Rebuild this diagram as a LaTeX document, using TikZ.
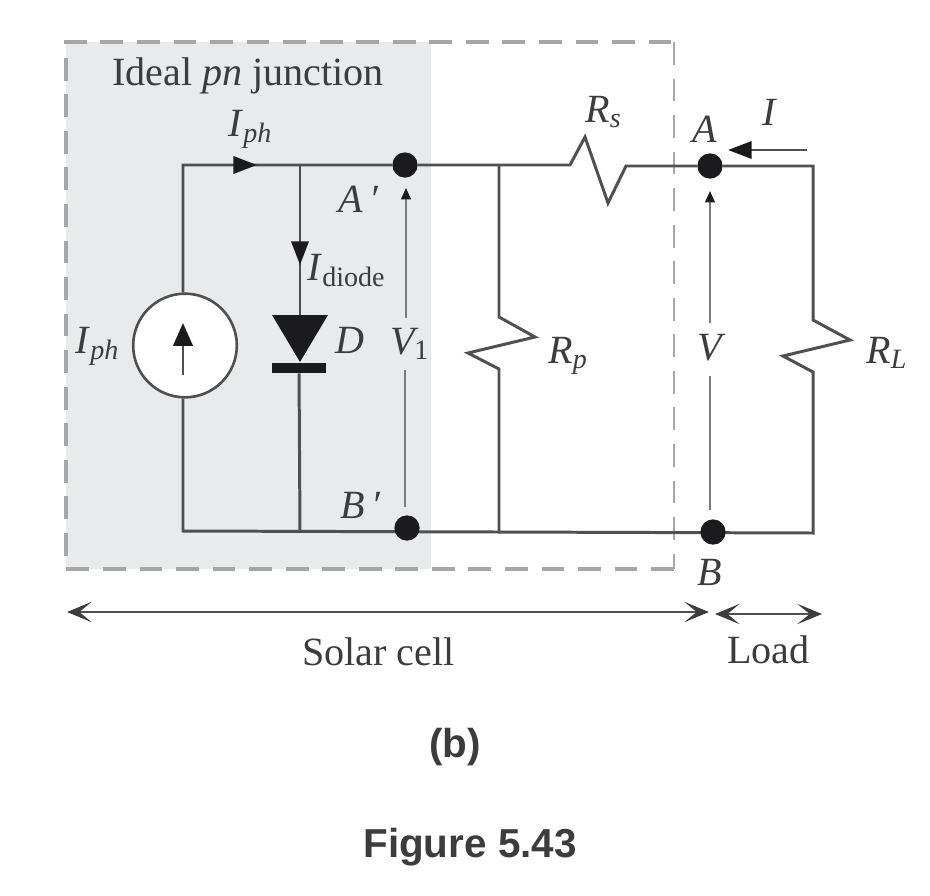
\documentclass[tikz,border=0pt]{standalone}
\usepackage{fontspec}
\setmainfont{Liberation Serif}
\setsansfont{Liberation Sans}
\usetikzlibrary{arrows.meta}
\pgfdeclarelayer{background}
\pgfsetlayers{background,main}
\definecolor{wirec}{HTML}{505050}
\definecolor{txtc}{HTML}{3C3C3E}
\definecolor{dashc}{HTML}{A6A6A6}
\definecolor{cellc}{HTML}{E9EAEC}
\definecolor{dotc}{HTML}{1B1B1D}
\newcommand{\ital}[1]{\textit{#1}}
\newcommand{\isub}[2]{\textit{#1}\textsubscript{\textit{#2}}}
\begin{document}
\begin{tikzpicture}[x=0.02cm,y=-0.02cm,
    wire/.style={draw=wirec,line width=1.7pt,line join=miter},
    dashbox/.style={draw=dashc,line width=1.8pt,dash pattern=on 13pt off 7.8pt},
    dot/.style={circle,fill=dotc,inner sep=0pt,minimum size=14.4pt},
    lab/.style={text=txtc,inner sep=0pt,anchor=base west,font=\fontsize{22.8}{25}\selectfont},
    figcap/.style={text=txtc,inner sep=0pt,anchor=base,font=\sffamily\bfseries\fontsize{23}{26}\selectfont},
    flow/.style={wire,-{Triangle[length=13.5pt,width=9.8pt,color=dotc]}},
    probe/.style={draw=wirec!75,line width=1pt,-{Triangle[length=6.5pt,width=5.6pt,color=dotc]}},
    probeline/.style={draw=wirec!75,line width=1pt},
    span/.style={draw=wirec,line width=1.6pt,{Stealth[length=14pt,width=11.5pt,inset=7pt,color=txtc]}-{Stealth[length=14pt,width=11.5pt,inset=7pt,color=txtc]}}]
    \useasboundingbox (0,0) rectangle (930,896);

    % nodes %
    \node [dot] (Ap) at (405,165) {};
    \node [dot] (Bp) at (407,528) {};
    \node [dot] (A) at (710,166) {};
    \node [dot] (B) at (713,532) {};
    \node [circle,draw=wirec,line width=1.5pt,fill=white,minimum size=59pt,inner sep=0pt] (src) at (185,345.5) {};

    \coordinate (tl) at (183,165);
    \coordinate (bl) at (183,531);
    \coordinate (tr) at (813,166);
    \coordinate (br) at (813,533);
    \coordinate (jd) at (300,165);
    \coordinate (jdb) at (300,531);
    \coordinate (jp) at (499,165);
    \coordinate (jpb) at (499,531);
    \coordinate (hd1) at (257,165);
    \coordinate (hd2) at (300,265);

    % diode %
    \coordinate (d1) at (272,315);
    \coordinate (d2) at (328,315);
    \coordinate (d3) at (300,362);
    \coordinate (dt) at (300,315);
    \node [fill=dotc,inner sep=0pt,minimum width=31pt,minimum height=5.6pt] (bar) at (299,368) {};
    \fill[dotc] (d1) -- (d2) -- (d3) -- cycle;

    % resistors %
    \coordinate (s1) at (570,165);
    \coordinate (s2) at (585,137);
    \coordinate (s3) at (608,203);
    \coordinate (s4) at (626,166);
    \coordinate (p1) at (499,317);
    \coordinate (p2) at (535,337);
    \coordinate (p3) at (468,353);
    \coordinate (p4) at (499,369);
    \coordinate (l1) at (813,320);
    \coordinate (l2) at (850,340);
    \coordinate (l3) at (783,356);
    \coordinate (l4) at (813,372);

    % box corners %
    \coordinate (c1) at (674,569);
    \coordinate (c2) at (66,569);
    \coordinate (c3) at (66,42);
    \coordinate (c4) at (674,42);
    \coordinate (c5) at (431,42);
    \coordinate (c6) at (431,569);

    % edges %
    \begin{pgfonlayer}{background}
    \fill[cellc] (c3) rectangle (c6);
    \draw[dashbox] (c1) -- (c2) -- (c3) -- (c4);
    \draw[dashbox,line width=1.2pt] (c4) -- (c1);
    \draw[wire] (src.north -| tl) -- (tl) -- (Ap) -- (s1) -- (s2) -- (s3) -- (s4) -- (A) -- (tr) -- (l1) -- (l2) -- (l3) -- (l4) -- (br) -- (bl) -- (src.south -| bl);
    \draw[flow] (tl) -- (hd1);
    \draw[wire] (jd) -- (dt);
    \draw[flow] (jd) -- (hd2);
    \draw[wire] (bar) -- (jdb);
    \draw[wire] (jp) -- (p1) -- (p2) -- (p3) -- (p4) -- (jpb);
    \end{pgfonlayer}

    % source arrow %
    \coordinate (sa1) at (183,375);
    \coordinate (sa2) at (183,323);
    \draw[draw=wirec,line width=1.7pt,-{Triangle[length=13pt,width=11pt,color=dotc]}] (sa1) -- (sa2);

    % voltage arrows %
    \coordinate (v1a) at (406,318);
    \coordinate (v1b) at (406,188);
    \coordinate (v1c) at (405,370);
    \coordinate (v1d) at (405,507);
    \draw[probe] (v1a) -- (v1b);
    \draw[probeline] (v1c) -- (v1d);
    \coordinate (va) at (710,323);
    \coordinate (vb) at (710,191);
    \coordinate (vc) at (710,376);
    \coordinate (vd) at (710,510);
    \draw[probe] (va) -- (vb);
    \draw[probeline] (vc) -- (vd);

    % current arrow %
    \coordinate (ia) at (807,150);
    \coordinate (ib) at (728,150);
    \draw[flow] (ia) -- (ib);

    % spans %
    \coordinate (sc1) at (67,612);
    \coordinate (sc2) at (709,612);
    \coordinate (ld1) at (715,614);
    \coordinate (ld2) at (822,614);
    \draw[span] (sc1) -- (sc2);
    \draw[span] (ld1) -- (ld2);

    % labels %
    \node [lab] (tjunc) at (112,85) {Ideal \ital{pn} junction};
    \node [lab] (tiph) at (228,136) {\isub{I}{ph}};
    \node [lab] (tap) at (338,212) {\ital{A}\,\ital{′}};
    \node [lab] (tid) at (307,280) {\ital{I}\textsubscript{diode}};
    \node [lab] (tiph2) at (75,353) {\isub{I}{ph}};
    \node [lab] (td) at (335,353) {\ital{D}};
    \node [lab] (tv1) at (390,354) {\ital{V}\kern-2.5pt\textsubscript{1}};
    \node [lab] (tbp) at (340,518) {\ital{B}\,\ital{′}};
    \node [lab] (trs) at (585,122) {\isub{R}{s}};
    \node [lab] (ta) at (692,142) {\ital{A}};
    \node [lab] (ti) at (762,125) {\ital{I}};
    \node [lab] (trp) at (548,363) {\isub{R}{p}};
    \node [lab] (tv) at (697,360) {\ital{V}};
    \node [lab] (trl) at (866,363) {\isub{R}{L}};
    \node [lab] (tb) at (697,585) {\ital{B}};
    \node [lab] (tsc) at (302,665) {Solar cell};
    \node [lab] (tld) at (727,663) {Load};
    \node [figcap] (tsub) at (455,757) {(b)};
    \node [figcap] (tfig) at (470,857) {Figure 5.43};
\end{tikzpicture}
\end{document}
